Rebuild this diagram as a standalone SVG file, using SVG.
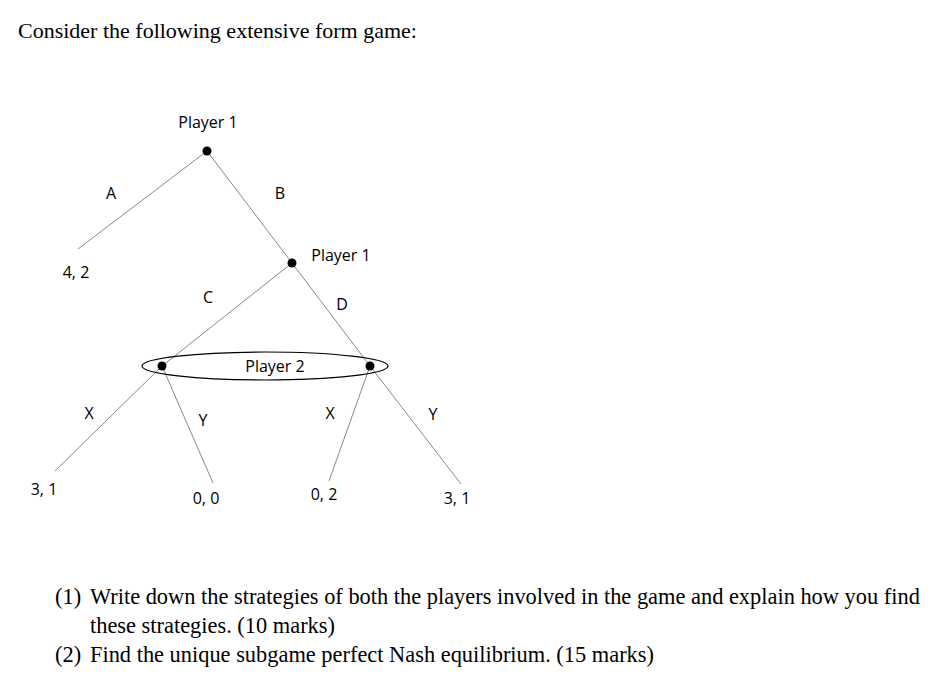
<svg xmlns="http://www.w3.org/2000/svg" width="951" height="691" viewBox="0 0 951 691">
<style>
.s{font-family:"Liberation Serif",serif;font-size:22.4px;fill:#000}
.l{font-family:"Open Sans","Liberation Sans",sans-serif;font-size:16px;fill:#000;text-anchor:middle}
.e{stroke:#888;stroke-width:1;fill:none}
.n{fill:#000}
</style>
<rect width="951" height="691" fill="#fff"/>
<text class="s" x="18" y="38" style="font-size:22px">Consider the following extensive form game:</text>
<g id="connectors">
<line class="e" x1="207" y1="151" x2="78" y2="249"/>
<line class="e" x1="207" y1="151" x2="292" y2="263"/>
<line class="e" x1="292" y1="263" x2="162" y2="366"/>
<line class="e" x1="292" y1="263" x2="370" y2="366"/>
<line class="e" x1="162" y1="366" x2="55" y2="471"/>
<line class="e" x1="162" y1="366" x2="213" y2="483"/>
<line class="e" x1="370" y1="366" x2="329" y2="481"/>
<line class="e" x1="370" y1="366" x2="461" y2="484"/>
</g>
<g id="root"><circle class="n" cx="207" cy="151" r="4.5"/><text class="l" x="208" y="128">Player 1</text></g>
<g id="node2"><circle class="n" cx="292" cy="263" r="4.5"/><text class="l" x="341" y="261">Player 1</text></g>
<g id="infoset"><ellipse cx="265" cy="366" rx="123" ry="14" fill="none" stroke="#000" stroke-width="1.2"/><text class="l" x="275" y="372">Player 2</text></g>
<g id="p2left"><circle class="n" cx="162" cy="366" r="4.5"/></g>
<g id="p2right"><circle class="n" cx="370" cy="366" r="4.5"/></g>
<g id="labels">
<text class="l" x="111" y="199">A</text>
<text class="l" x="280" y="199">B</text>
<text class="l" x="208" y="303">C</text>
<text class="l" x="342" y="310">D</text>
<text class="l" x="89" y="419">X</text>
<text class="l" x="203" y="426">Y</text>
<text class="l" x="330" y="419">X</text>
<text class="l" x="433" y="420">Y</text>
</g>
<g id="payoffs">
<text class="l" x="76" y="278">4, 2</text>
<text class="l" x="44" y="495">3, 1</text>
<text class="l" x="206" y="504">0, 0</text>
<text class="l" x="324" y="500">0, 2</text>
<text class="l" x="457" y="504">3, 1</text>
</g>
<text class="s" x="55" y="604">(1)</text>
<text class="s" x="90" y="604">Write down the strategies of both the players involved in the game and explain how you find</text>
<text class="s" x="90" y="633">these strategies. (10 marks)</text>
<text class="s" x="55" y="662">(2)</text>
<text class="s" x="90" y="662">Find the unique subgame perfect Nash equilibrium. (15 marks)</text>
</svg>
